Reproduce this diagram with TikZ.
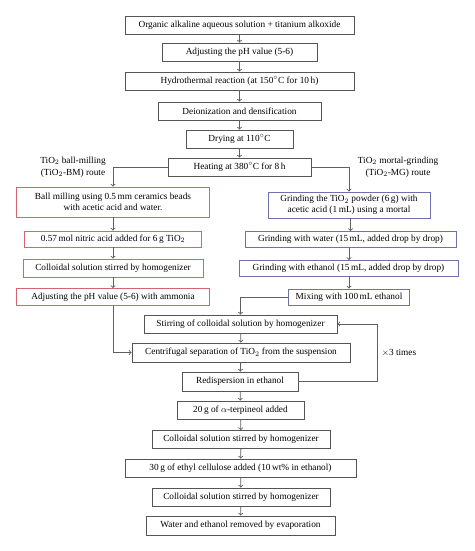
\documentclass[tikz,border=0pt]{standalone}
\usepackage{fontspec}
\setmainfont{Liberation Serif}
\usepackage{xcolor}
\usepackage{tikz}
\usetikzlibrary{arrows,calc}
\definecolor{boxgray}{RGB}{85,85,85}
\definecolor{bmred}{RGB}{214,100,112}
\definecolor{mgblue}{RGB}{112,112,172}
\definecolor{arrgray}{RGB}{95,95,95}
\tikzset{
  box/.style={draw=boxgray, line width=0.9pt, minimum height=18pt, inner sep=1pt,
    align=center, font=\fontsize{9.3}{11}\selectfont},
  bmbox/.style={box, draw=bmred},
  mgbox/.style={box, draw=mgblue},
  routelabel/.style={align=center, font=\fontsize{9.3}{12}\selectfont},
  flow/.style={->, >=to, draw=arrgray, line width=0.85pt}
}

\begin{document}
\begin{tikzpicture}[x=1pt,y=-1pt]
\useasboundingbox (0,0) rectangle (474,551);
% main column
\node[box, minimum width=229pt] (org) at (239.5,25.5) {Organic alkaline aqueous solution + titanium alkoxide};
\node[box, minimum width=155pt] (ph) at (239.5,52) {Adjusting the pH value (5-6)};
\node[box, minimum width=229pt] (hydro) at (239.5,81) {Hydrothermal reaction (at 150$^\circ$C for 10\,h)};
\node[box, minimum width=163pt] (deion) at (239.5,111) {Deionization and densification};
\node[box, minimum width=107pt] (dry) at (239.5,139) {Drying at 110$^\circ$C};
\node[box, minimum width=143pt] (heat) at (239.5,167) {Heating at 380$^\circ$C for 8\,h};
\node[routelabel] (bmlabel) at (73,167) {TiO$_2$ ball-milling\\(TiO$_2$-BM) route};
\node[routelabel] (mglabel) at (398,167) {TiO$_2$ mortal-grinding\\(TiO$_2$-MG) route};
% ball-milling route
\node[bmbox, minimum width=193pt, minimum height=30pt] (bm1) at (113,202) {Ball milling using 0.5\,mm ceramics beads\\with acetic acid and water.};
\node[bmbox, minimum width=177pt, minimum height=16pt] (bm2) at (113,239) {0.57\,mol nitric acid added for 6\,g TiO$_2$};
\node[bmbox, minimum width=180pt] (bm3) at (113,268) {Colloidal solution stirred by homogenizer};
\node[bmbox, minimum width=193pt, minimum height=17pt] (bm4) at (113,297) {Adjusting the pH value (5-6) with ammonia};
% mortal-grinding route
\node[mgbox, minimum width=162pt, minimum height=26pt] (mg1) at (349,205) {Grinding the TiO$_2$ powder (6\,g) with\\acetic acid (1\,mL) using a mortal};
\node[mgbox, minimum width=211pt, minimum height=16pt] (mg2) at (350.5,239.5) {Grinding with water (15\,mL, added drop by drop)};
\node[mgbox, minimum width=219pt, minimum height=16pt] (mg3) at (348.5,268.5) {Grinding with ethanol (15\,mL, added drop by drop)};
\node[mgbox, minimum width=121pt, minimum height=16pt] (mg4) at (349,297) {Mixing with 100\,mL ethanol};
% common steps
\node[box, minimum width=193pt] (stir) at (240.5,324) {Stirring of colloidal solution by homogenizer};
\node[box, minimum width=218pt, minimum height=19pt] (cent) at (241,352.5) {Centrifugal separation of TiO$_2$ from the suspension};
\node[box, minimum width=116pt, minimum height=19pt] (redisp) at (240,381.5) {Redispersion in ethanol};
\node[box, minimum width=127pt] (terp) at (240.5,410) {20\,g of $\alpha$-terpineol added};
\node[box, minimum width=178pt] (coll1) at (241,439.5) {Colloidal solution stirred by homogenizer};
\node[box, minimum width=231pt] (ethyl) at (240.5,468) {30\,g of ethyl cellulose added (10\,wt\% in ethanol)};
\node[box, minimum width=178pt] (coll2) at (241,497) {Colloidal solution stirred by homogenizer};
\node[box, minimum width=189pt, minimum height=19pt] (water) at (240.5,525.5) {Water and ethanol removed by evaporation};
\coordinate (loopx) at (377,0);
\node[font=\fontsize{9.3}{11}\selectfont] (times) at (399,352.5) {$\times$3 times};

\draw[flow] (org) -- (ph);
\draw[flow] (ph) -- (hydro);
\draw[flow] (hydro) -- (deion);
\draw[flow] (deion) -- (dry);
\draw[flow] (dry) -- (heat);
\draw[flow] (heat.west) -| (bm1.north);
\draw[flow] (heat.east) -| (mg1.north);
\draw[flow] (bm1) -- (bm2);
\draw[flow] (bm2) -- (bm3);
\draw[flow] (bm3) -- (bm4);
\draw[flow] (mg1) -- (mg2 |- mg1.south) -- (mg2.north);
\draw[flow] (mg2.south -| mg1) -- (mg3.north -| mg1);
\draw[flow] (mg3.south -| mg1) -- (mg4.north);
\draw[flow] (mg4.west) -| (stir.north);
\draw[flow] (bm4.south) |- (cent.west);
\draw[flow] (stir) -- (cent);
\draw[flow] (cent) -- (redisp);
\draw[flow] (redisp.east) -- (redisp.east -| loopx) |- (stir.east);
\draw[flow] (redisp) -- (terp);
\draw[flow] (terp) -- (coll1);
\draw[flow] (coll1) -- (ethyl);
\draw[flow] (ethyl) -- (coll2);
\draw[flow] (coll2) -- (water);
\end{tikzpicture}
\end{document}
